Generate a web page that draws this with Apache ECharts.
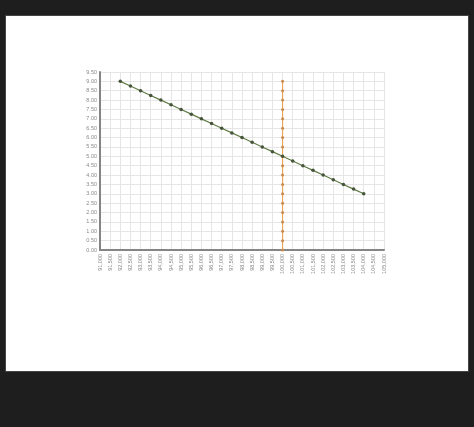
<!DOCTYPE html>
<html>
<head>
<meta charset="utf-8">
<script src="https://cdn.jsdelivr.net/npm/echarts@6/dist/echarts.min.js"></script>
<style>
    html, body { margin: 0; padding: 0; background: #1e1e1e; }
    #frame { position: absolute; left: 5px; top: 15px; width: 464px; height: 357px; background: #fff; border: 1px solid #444; box-sizing: border-box; }
    #main { position: absolute; left: 0; top: 0; width: 474px; height: 427px; }
</style>
</head>
<body>
<div id="frame"></div>
<div id="main"></div>
<script>
// falling line, points every 500
var lineX = [92000, 92500, 93000, 93500, 94000, 94500, 95000, 95500, 96000, 96500, 97000, 97500, 98000,
    98500, 99000, 99500, 100000, 100500, 101000, 101500, 102000, 102500, 103000, 103500, 104000];
var lineY = [9.00, 8.75, 8.50, 8.25, 8.00, 7.75, 7.50, 7.25, 7.00, 6.75, 6.50, 6.25, 6.00,
    5.75, 5.50, 5.25, 5.00, 4.75, 4.50, 4.25, 4.00, 3.75, 3.50, 3.25, 3.00];

// vertical marker at 100,000
var vertX = [100000, 100000, 100000, 100000, 100000, 100000, 100000, 100000, 100000, 100000,
    100000, 100000, 100000, 100000, 100000, 100000, 100000, 100000, 100000];
var vertY = [0, 0.5, 1, 1.5, 2, 2.5, 3, 3.5, 4, 4.5, 5, 5.5, 6, 6.5, 7, 7.5, 8, 8.5, 9];

function pairs(xs, ys) {
    var out = [];
    for (var i = 0; i < xs.length; i++) out.push([xs[i], ys[i]]);
    return out;
}

var chart = echarts.init(document.getElementById('main'));
var option = {
    backgroundColor: 'transparent',
    animation: false,
    grid: { left: 100, right: 90, top: 72, bottom: 177 },
    xAxis: {
        type: 'value',
        min: 91000,
        max: 105000,
        interval: 500,
        axisLine: { show: true, lineStyle: { color: '#858585', width: 2 } },
        axisTick: { show: false },
        splitLine: { lineStyle: { color: '#e6e6e6', width: 1 } },
        axisLabel: {
            rotate: 90,
            fontSize: 5.5,
            color: '#8a8a8a',
            margin: 4,
            fontFamily: 'Liberation Sans',
            formatter: function (v) { return v.toLocaleString('en-US'); }
        }
    },
    yAxis: {
        type: 'value',
        min: 0,
        max: 9.5,
        interval: 0.5,
        axisLine: { show: true, lineStyle: { color: '#858585', width: 2 } },
        axisTick: { show: false },
        splitLine: { lineStyle: { color: '#e6e6e6', width: 1 } },
        axisLabel: {
            fontSize: 5.5,
            color: '#8a8a8a',
            margin: 3,
            fontFamily: 'Liberation Sans',
            formatter: function (v) { return v.toFixed(2); }
        }
    },
    series: [{
        type: 'line',
        data: pairs(vertX, vertY),
        symbol: 'circle',
        symbolSize: 3,
        lineStyle: { color: '#eaa45e', width: 1.2 },
        itemStyle: { color: '#c98a4a' },
        z: 2
    }, {
        type: 'line',
        data: pairs(lineX, lineY),
        symbol: 'circle',
        symbolSize: 3.5,
        lineStyle: { color: '#5e7a42', width: 1.2 },
        itemStyle: { color: '#45543a' },
        z: 3
    }]
};
chart.setOption(option);
</script>
</body>
</html>
